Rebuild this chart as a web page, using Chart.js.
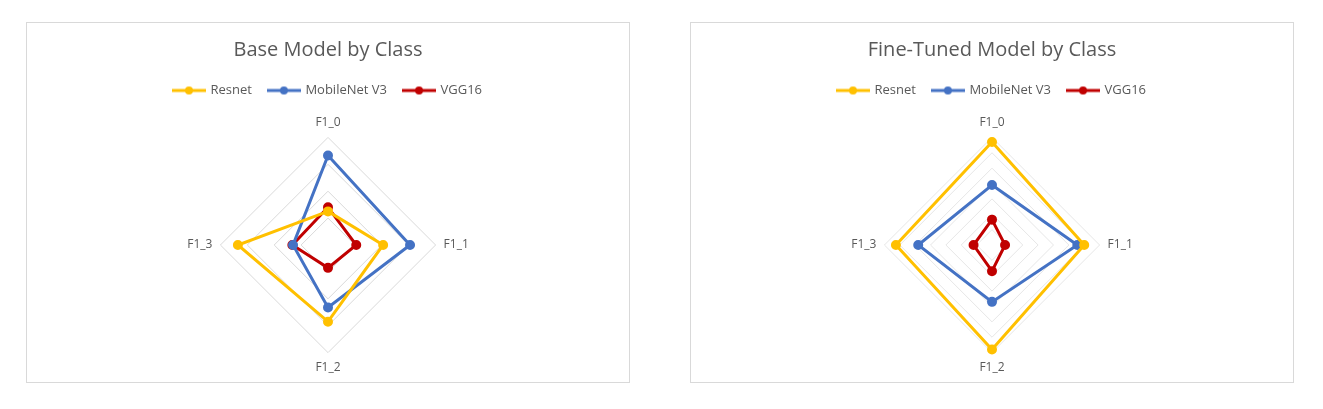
<!DOCTYPE html>
<html>
<head>
<meta charset="utf-8">
<script src="https://cdn.jsdelivr.net/npm/chart.js@4"></script>
<style>
  body { margin: 0; background: #fff; width: 1323px; height: 409px; position: relative; overflow: hidden; }
  .box { position: absolute; top: 22px; width: 604px; height: 361px; border: 1px solid #d9d9d9; box-sizing: border-box; background: #fff; }
  #box1 { left: 26px; }
  #box2 { left: 690px; }
  canvas { display: block; }
</style>
</head>
<body>
<div class="box" id="box1"><canvas id="base"></canvas></div>
<div class="box" id="box2"><canvas id="fine"></canvas></div>
<script>
// data
const categories = ['F1_0', 'F1_1', 'F1_2', 'F1_3'];
const seriesNames = ['Resnet', 'MobileNet V3', 'VGG16'];
const seriesColors = ['#FFC000', '#4472C4', '#C00000'];

const baseResnet = [0.25, 0.41, 0.57, 0.67];
const baseMobileNet = [0.665, 0.61, 0.465, 0.26];
const baseVGG16 = [0.28, 0.21, 0.17, 0.265];

const fineResnet = [0.67, 0.60, 0.68, 0.625];
const fineMobileNet = [0.39, 0.555, 0.37, 0.48];
const fineVGG16 = [0.165, 0.085, 0.17, 0.12];

const baseTicks = [0, 0.2, 0.4, 0.6, 0.8];
const fineTicks = [0, 0.1, 0.2, 0.3, 0.4, 0.5, 0.6, 0.7];

const FONT = "'Open Sans', sans-serif";
const TEXT = '#595959';

// legend swatch: short line with a dot, like the spreadsheet legend
function legendSwatch(color) {
    const c = document.createElement('canvas');
    c.width = 34; c.height = 10;
    const g = c.getContext('2d');
    g.strokeStyle = color; g.lineWidth = 3;
    g.beginPath(); g.moveTo(0, 5); g.lineTo(34, 5); g.stroke();
    g.fillStyle = color;
    g.beginPath(); g.arc(17, 5, 4, 0, Math.PI * 2); g.fill();
    return c;
}

// leave some room between the legend and the plot
const legendGap = {
    id: 'legendGap',
    beforeInit(chart) {
        const fit = chart.legend.fit;
        chart.legend.fit = function () {
            fit.bind(chart.legend)();
            this.height += 8;
        };
    }
};

function makeRadar(id, title, values, ticks, dashed) {
    const datasets = values.map((v, i) => ({
        label: seriesNames[i],
        data: v,
        borderColor: seriesColors[i],
        backgroundColor: seriesColors[i],
        pointBackgroundColor: seriesColors[i],
        pointBorderColor: seriesColors[i],
        borderWidth: 3,
        pointRadius: 3.5,
        fill: false
    }));

    new Chart(document.getElementById(id), {
        type: 'radar',
        data: { labels: categories, datasets: datasets },
        plugins: [legendGap],
        options: {
            responsive: true,
            maintainAspectRatio: false,
            animation: false,
            layout: { padding: { top: 0, bottom: 6, left: 0, right: 0 } },
            plugins: {
                title: {
                    display: true,
                    text: title,
                    color: TEXT,
                    font: { family: FONT, size: 20, weight: 'normal' },
                    padding: { top: 15, bottom: 5 }
                },
                legend: {
                    position: 'top',
                    labels: {
                        color: TEXT,
                        font: { family: FONT, size: 13 },
                        usePointStyle: true,
                        pointStyleWidth: 30,
                        boxHeight: 10,
                        padding: 17,
                        generateLabels: chart => chart.data.datasets.map((ds, i) => ({
                            text: ds.label,
                            fontColor: TEXT,
                            pointStyle: legendSwatch(ds.borderColor),
                            datasetIndex: i,
                            lineWidth: 0
                        }))
                    }
                },
                tooltip: { enabled: false }
            },
            scales: {
                r: {
                    min: ticks[0],
                    max: ticks[ticks.length - 1],
                    ticks: { display: false, stepSize: ticks[1] - ticks[0] },
                    angleLines: { display: false },
                    grid: {
                        color: dashed ? '#e6e6e6' : '#d9d9d9',
                        lineWidth: 1,
                        borderDash: dashed ? [2, 2] : []
                    },
                    pointLabels: {
                        color: TEXT,
                        font: { family: FONT, size: 12 },
                        padding: 8
                    }
                }
            }
        }
    });
}

makeRadar('base', 'Base Model by Class', [baseResnet, baseMobileNet, baseVGG16], baseTicks, false);
makeRadar('fine', 'Fine-Tuned Model by Class', [fineResnet, fineMobileNet, fineVGG16], fineTicks, true);
</script>
</body>
</html>
